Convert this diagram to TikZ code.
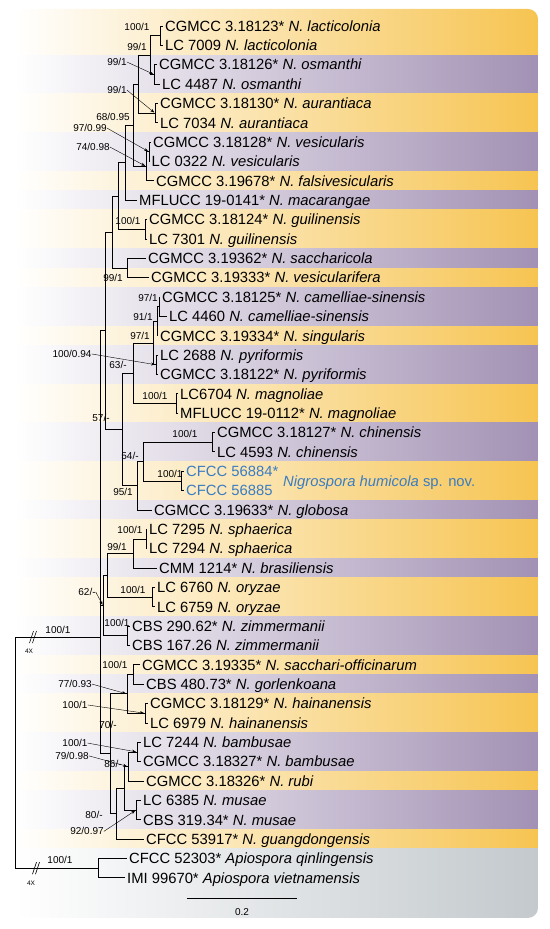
\documentclass[tikz,border=0pt]{standalone}
\usepackage{fontspec}
\setmainfont{Liberation Sans}
\usetikzlibrary{arrows.meta, positioning}
\definecolor{bandyellow}{HTML}{F6C451}
\definecolor{bandpurple}{HTML}{A291B4}
\definecolor{bandgray}{HTML}{C3C9CD}
\definecolor{novblue}{HTML}{3A7CC2}
\tikzstyle{taxon} = [anchor=west, inner xsep=2pt, inner ysep=0pt,
  text height=10.5pt, text depth=0pt, font=\fontsize{14.8}{16}\selectfont]
\tikzstyle{support} = [inner sep=0pt, font=\fontsize{10}{11}\selectfont]
\tikzstyle{branch} = [line width=0.9pt]
\tikzstyle{pointer} = [line width=0.4pt, shorten >=1pt, -{Stealth[length=4pt, width=3pt]}]

\begin{document}
\begin{tikzpicture}[x=1pt, y=-19.36pt]
    \useasboundingbox (0,-0.343) rectangle (550,47.643);
    % coloured bands
    \begin{scope}
      \clip[rounded corners=10pt] (15,0.12) rectangle (538,47.07);
      \foreach \a/\b/\c in {0.12/2.5/bandyellow, 2.5/4.5/bandpurple, 4.5/6.5/bandyellow,
          6.5/8.5/bandpurple, 8.5/9.5/bandyellow, 9.5/10.5/bandpurple, 10.5/12.5/bandyellow,
          12.5/13.5/bandpurple, 13.5/14.5/bandyellow, 14.5/16.5/bandpurple, 16.5/17.5/bandyellow,
          17.5/19.5/bandpurple, 19.5/21.5/bandyellow, 21.5/23.5/bandpurple, 23.5/25.5/bandyellow,
          25.5/26.5/bandpurple, 26.5/28.5/bandyellow, 28.5/29.5/bandpurple, 29.5/31.5/bandyellow,
          31.5/33.5/bandpurple, 33.5/34.5/bandyellow, 34.5/35.5/bandpurple, 35.5/37.5/bandyellow,
          37.5/39.5/bandpurple, 39.5/40.5/bandyellow, 40.5/42.5/bandpurple, 42.5/43.5/bandyellow,
          43.5/47.07/bandgray}
        \shade[left color=white, right color=\c] (15,\a) rectangle (538,\b);
    \end{scope}

    % taxa
    \node[taxon] (lacA) at (163,1) {CGMCC 3.18123* \textit{N. lacticolonia}};
    \node[taxon] (lacB) at (163,2) {LC 7009 \textit{N. lacticolonia}};
    \node[taxon] (osmA) at (157,3) {CGMCC 3.18126* \textit{N. osmanthi}};
    \node[taxon] (osmB) at (160,4) {LC 4487 \textit{N. osmanthi}};
    \node[taxon] (aurA) at (158,5) {CGMCC 3.18130* \textit{N. aurantiaca}};
    \node[taxon] (aurB) at (158,6) {LC 7034 \textit{N. aurantiaca}};
    \node[taxon] (vesA) at (151,7) {CGMCC 3.18128* \textit{N. vesicularis}};
    \node[taxon] (vesB) at (149.5,8) {LC 0322 \textit{N. vesicularis}};
    \node[taxon] (fals) at (154,9) {CGMCC 3.19678* \textit{N. falsivesicularis}};
    \node[taxon] (maca) at (137,10) {MFLUCC 19-0141* \textit{N. macarangae}};
    \node[taxon] (guiA) at (147,11) {CGMCC 3.18124* \textit{N. guilinensis}};
    \node[taxon] (guiB) at (147,12) {LC 7301 \textit{N. guilinensis}};
    \node[taxon] (sacc) at (146,13) {CGMCC 3.19362* \textit{N. saccharicola}};
    \node[taxon] (vsfr) at (149,14) {CGMCC 3.19333* \textit{N. vesicularifera}};
    \node[taxon] (camA) at (160,15) {CGMCC 3.18125* \textit{N. camelliae-sinensis}};
    \node[taxon] (camB) at (167,16) {LC 4460 \textit{N. camelliae-sinensis}};
    \node[taxon] (sing) at (158,17) {CGMCC 3.19334* \textit{N. singularis}};
    \node[taxon] (pyrA) at (158,18) {LC 2688 \textit{N. pyriformis}};
    \node[taxon] (pyrB) at (158,19) {CGMCC 3.18122* \textit{N. pyriformis}};
    \node[taxon] (magA) at (178,20) {LC6704 \textit{N. magnoliae}};
    \node[taxon] (magB) at (178,21) {MFLUCC 19-0112* \textit{N. magnoliae}};
    \node[taxon] (chiA) at (215,22) {CGMCC 3.18127* \textit{N. chinensis}};
    \node[taxon] (chiB) at (215,23) {LC 4593 \textit{N. chinensis}};
    \node[taxon, text=novblue] (humA) at (184,24) {CFCC 56884*};
    \node[taxon, text=novblue] (humB) at (184,25) {CFCC 56885};
    \node[taxon, text=novblue] (humName) at (281,24.5) {\textit{Nigrospora humicola} sp. nov.};
    \node[taxon] (glob) at (152,26) {CGMCC 3.19633* \textit{N. globosa}};
    \node[taxon] (sphA) at (147,27) {LC 7295 \textit{N. sphaerica}};
    \node[taxon] (sphB) at (147,28) {LC 7294 \textit{N. sphaerica}};
    \node[taxon] (bras) at (157,29) {CMM 1214* \textit{N. brasiliensis}};
    \node[taxon] (oryA) at (155,30) {LC 6760 \textit{N. oryzae}};
    \node[taxon] (oryB) at (155,31) {LC 6759 \textit{N. oryzae}};
    \node[taxon] (zimA) at (130,32) {CBS 290.62* \textit{N. zimmermanii}};
    \node[taxon] (zimB) at (130,33) {CBS 167.26 \textit{N. zimmermanii}};
    \node[taxon] (soff) at (140,34) {CGMCC 3.19335* \textit{N. sacchari-officinarum}};
    \node[taxon] (gorl) at (144,35) {CBS 480.73* \textit{N. gorlenkoana}};
    \node[taxon] (haiA) at (148,36) {CGMCC 3.18129* \textit{N. hainanensis}};
    \node[taxon] (haiB) at (148,37) {LC 6979 \textit{N. hainanensis}};
    \node[taxon] (bamA) at (141,38) {LC 7244 \textit{N. bambusae}};
    \node[taxon] (bamB) at (141,39) {CGMCC 3.18327* \textit{N. bambusae}};
    \node[taxon] (rubi) at (144,40) {CGMCC 3.18326* \textit{N. rubi}};
    \node[taxon] (musA) at (141,41) {LC 6385 \textit{N. musae}};
    \node[taxon] (musB) at (141,42) {CBS 319.34* \textit{N. musae}};
    \node[taxon] (guan) at (144,43) {CFCC 53917* \textit{N. guangdongensis}};
    \node[taxon] (apiA) at (127,44) {CFCC 52303* \textit{Apiospora qinlingensis}};
    \node[taxon] (apiB) at (125,45) {IMI 99670* \textit{Apiospora vietnamensis}};

    % internal nodes
    \coordinate (nLac) at (160,1.5);
    \coordinate (nOsm) at (154,3.5);
    \coordinate (nLO) at (150,2.5);
    \coordinate (nAur) at (155,5.5);
    \coordinate (nLOA) at (138,4);
    \coordinate (nVes) at (149,7.5);
    \coordinate (nVF) at (146,8.25);
    \coordinate (nT1) at (133,6.125);
    \coordinate (nT2) at (125,8.06);
    \coordinate (nGui) at (145,11.5);
    \coordinate (nT3) at (118,9.78);
    \coordinate (nSac) at (127,13.5);
    \coordinate (nA) at (112,11.64);
    \coordinate (nCam) at (159,15.5);
    \coordinate (nCS) at (157,16.25);
    \coordinate (nPyr) at (156,18.5);
    \coordinate (nCSP) at (153,17.375);
    \coordinate (nMag) at (176,20.5);
    \coordinate (nB1) at (133,18.94);
    \coordinate (nChi) at (212,22.5);
    \coordinate (nHum) at (181,24.5);
    \coordinate (nC1) at (143,23.5);
    \coordinate (nC2) at (137,24.75);
    \coordinate (nB) at (122,21.84);
    \coordinate (nAB) at (105,16.74);
    \coordinate (nSph) at (146,27.5);
    \coordinate (nSB) at (133,28.25);
    \coordinate (nOry) at (152,30.5);
    \coordinate (nD) at (107,29.375);
    \coordinate (nZim) at (127,32.5);
    \coordinate (nDZ) at (103,30.94);
    \coordinate (nSG) at (133,34.5);
    \coordinate (nHai) at (145,36.5);
    \coordinate (nSGH) at (127,35.5);
    \coordinate (nBam) at (137,38.5);
    \coordinate (nBR) at (128,39.25);
    \coordinate (nMus) at (136,41.5);
    \coordinate (nBRM) at (124,40.375);
    \coordinate (nBRMG) at (116,41.69);
    \coordinate (nE) at (110,38.6);
    \coordinate (nIn) at (100,32.56);
    \coordinate (nOut) at (98,44.5);
    \coordinate (root) at (15,38.5);

    % branches
    \draw[branch] (nLac) |- (lacA.west);  \draw[branch] (nLac) |- (lacB.west);
    \draw[branch] (nOsm) |- (osmA.west);  \draw[branch] (nOsm) |- (osmB.west);
    \draw[branch] (nLO) |- (nLac);        \draw[branch] (nLO) |- (nOsm);
    \draw[branch] (nAur) |- (aurA.west);  \draw[branch] (nAur) |- (aurB.west);
    \draw[branch] (nLOA) |- (nLO);        \draw[branch] (nLOA) |- (nAur);
    \draw[branch] (nVes) |- (vesA.west);  \draw[branch] (nVes) |- (vesB.west);
    \draw[branch] (nVF) |- (nVes);        \draw[branch] (nVF) |- (fals.west);
    \draw[branch] (nT1) |- (nLOA);        \draw[branch] (nT1) |- (nVF);
    \draw[branch] (nT2) |- (nT1);         \draw[branch] (nT2) |- (maca.west);
    \draw[branch] (nGui) |- (guiA.west);  \draw[branch] (nGui) |- (guiB.west);
    \draw[branch] (nT3) |- (nT2);         \draw[branch] (nT3) |- (nGui);
    \draw[branch] (nSac) |- (sacc.west);  \draw[branch] (nSac) |- (vsfr.west);
    \draw[branch] (nA) |- (nT3);          \draw[branch] (nA) |- (nSac);
    \draw[branch] (nCam) |- (camA.west);  \draw[branch] (nCam) |- (camB.west);
    \draw[branch] (nCS) |- (nCam);        \draw[branch] (nCS) |- (sing.west);
    \draw[branch] (nPyr) |- (pyrA.west);  \draw[branch] (nPyr) |- (pyrB.west);
    \draw[branch] (nCSP) |- (nCS);        \draw[branch] (nCSP) |- (nPyr);
    \draw[branch] (nMag) |- (magA.west);  \draw[branch] (nMag) |- (magB.west);
    \draw[branch] (nB1) |- (nCSP);        \draw[branch] (nB1) |- (nMag);
    \draw[branch] (nChi) |- (chiA.west);  \draw[branch] (nChi) |- (chiB.west);
    \draw[branch] (nHum) |- (humA.west);  \draw[branch] (nHum) |- (humB.west);
    \draw[branch] (nC1) |- (nChi);        \draw[branch] (nC1) |- (nHum);
    \draw[branch] (nC2) |- (nC1);         \draw[branch] (nC2) |- (glob.west);
    \draw[branch] (nB) |- (nB1);          \draw[branch] (nB) |- (nC2);
    \draw[branch] (nAB) |- (nA);          \draw[branch] (nAB) |- (nB);
    \draw[branch] (nSph) |- (sphA.west);  \draw[branch] (nSph) |- (sphB.west);
    \draw[branch] (nSB) |- (nSph);        \draw[branch] (nSB) |- (bras.west);
    \draw[branch] (nOry) |- (oryA.west);  \draw[branch] (nOry) |- (oryB.west);
    \draw[branch] (nD) |- (nSB);          \draw[branch] (nD) |- (nOry);
    \draw[branch] (nZim) |- (zimA.west);  \draw[branch] (nZim) |- (zimB.west);
    \draw[branch] (nDZ) |- (nD);          \draw[branch] (nDZ) |- (nZim);
    \draw[branch] (nSG) |- (soff.west);   \draw[branch] (nSG) |- (gorl.west);
    \draw[branch] (nHai) |- (haiA.west);  \draw[branch] (nHai) |- (haiB.west);
    \draw[branch] (nSGH) |- (nSG);        \draw[branch] (nSGH) |- (nHai);
    \draw[branch] (nBam) |- (bamA.west);  \draw[branch] (nBam) |- (bamB.west);
    \draw[branch] (nBR) |- (nBam);        \draw[branch] (nBR) |- (rubi.west);
    \draw[branch] (nMus) |- (musA.west);  \draw[branch] (nMus) |- (musB.west);
    \draw[branch] (nBRM) |- (nBR);        \draw[branch] (nBRM) |- (nMus);
    \draw[branch] (nBRMG) |- (nBRM);      \draw[branch] (nBRMG) |- (guan.west);
    \draw[branch] (nE) |- (nSGH);         \draw[branch] (nE) |- (nBRMG);
    \draw[branch] (nIn) |- (nAB);         \draw[branch] (nIn) |- (nDZ);
    \draw[branch] (nIn) |- (nE);
    \draw[branch] (nOut) |- (apiA.west);  \draw[branch] (nOut) |- (apiB.west);
    \draw[branch] (root) |- (nIn);        \draw[branch] (root) |- (nOut);

    % broken branches
    \coordinate (brkIn) at (33,32.56);
    \coordinate (brkOut) at (36,44.5);
    \foreach \b in {brkIn, brkOut} {
      \draw[line width=0.6pt] ([xshift=-3.5pt,yshift=-6pt]\b) -- ([xshift=0.5pt,yshift=6pt]\b);
      \draw[line width=0.6pt] ([xshift=-0.5pt,yshift=-6pt]\b) -- ([xshift=3.5pt,yshift=6pt]\b);
    }
    \node[support, font=\fontsize{6.5}{7}\selectfont] (fourIn) at (29,33.3) {4X};
    \node[support, font=\fontsize{6.5}{7}\selectfont] (fourOut) at (31,45.3) {4X};

    % support values
    \node[support] (sLac) at (137,1.05) {100/1};
    \node[support] (sLO) at (137,2.08) {99/1};
    \node[support] (sOsm) at (117,2.86) {99/1};
    \node[support] (sAur) at (117,4.31) {99/1};
    \node[support] (sLOA) at (113,5.7) {68/0.95};
    \node[support] (sVes) at (90,6.27) {97/0.99};
    \node[support] (sVF) at (93,7.25) {74/0.98};
    \node[support] (sGui) at (128,11.07) {100/1};
    \node[support] (sSac) at (113,14.02) {99/1};
    \node[support] (sCam) at (148,15.05) {97/1};
    \node[support] (sCS) at (143,16.03) {91/1};
    \node[support] (sCSP) at (140,17.01) {97/1};
    \node[support] (sPyr) at (72,17.94) {100/0.94};
    \node[support] (sB1) at (118,18.51) {63/-};
    \node[support] (sMag) at (155,20.11) {100/1};
    \node[support] (sB) at (101,21.25) {57/-};
    \node[support] (sChi) at (185,22.07) {100/1};
    \node[support] (sC1) at (130,23.21) {54/-};
    \node[support] (sHum) at (170,24.14) {100/1};
    \node[support] (sC2) at (123,25.07) {95/1};
    \node[support] (sSph) at (130,27.03) {100/1};
    \node[support] (sSB) at (117,27.91) {99/1};
    \node[support] (sOry) at (133,30.13) {100/1};
    \node[support] (sDZ) at (87,30.24) {62/-};
    \node[support] (sZim) at (117,31.84) {100/1};
    \node[support] (sIn) at (58,32.2) {100/1};
    \node[support] (sSG) at (115,34.0) {100/1};
    \node[support] (sSGH) at (75,34.99) {77/0.93};
    \node[support] (sHai) at (75,36.07) {100/1};
    \node[support] (sE) at (108,37.1) {70/-};
    \node[support] (sBam) at (75,38.04) {100/1};
    \node[support] (sBR) at (72,38.7) {79/0.98};
    \node[support] (sBRM) at (113,39.12) {86/-};
    \node[support] (sIn2) at (94,41.75) {80/-};
    \node[support] (sBRMG) at (87,42.6) {92/0.97};
    \node[support] (sOut) at (60,44.08) {100/1};

    % pointers from values to their nodes
    \draw[pointer] (sOsm.east) -- (nOsm);
    \draw[pointer] (sAur.east) -- (nAur);
    \draw[pointer] (sVes.east) -- (nVes);
    \draw[pointer] (sVF.east) -- (nVF);
    \draw[pointer] (sPyr.east) -- (nPyr);
    \draw[pointer] (sDZ.east) -- (nDZ);
    \draw[pointer] (sSGH.east) -- (nSGH);
    \draw[pointer] (sHai.east) -- (nHai);
    \draw[pointer] (sBam.east) -- (nBam);
    \draw[pointer] (sBR.east) -- (nBR);
    \draw[pointer] (sBRMG.east) -- (nMus);

    % scale bar
    \coordinate (barL) at (187,46.04);
    \coordinate (barR) at (297,46.04);
    \draw[line width=0.8pt] (barL) -- (barR);
    \node[support] (barLab) at (242,46.77) {0.2};
\end{tikzpicture}
\end{document}
